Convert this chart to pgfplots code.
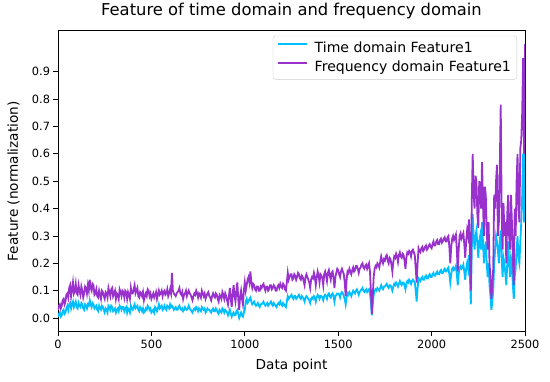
\documentclass[border=0pt]{standalone}
\usepackage{fontspec}
\setmainfont{DejaVu Sans}
\usepackage{pgfplots}
\usepackage{pgfplotstable}
\pgfplotsset{compat=1.18}
\definecolor{tdcol}{RGB}{0,191,255}
\definecolor{fdcol}{RGB}{153,50,204}
\pgfplotstableread{
x t f
0 0.005 0.03
5 0.015 0.045
10 0.02 0.05
15 0.005 0.035
20 0.01 0.045
25 0.025 0.065
30 0.03 0.07
35 0.015 0.05
40 0.02 0.06
45 0.035 0.085
50 0.045 0.09
55 0.03 0.075
60 0.05 0.11
65 0.055 0.12
70 0.035 0.08
75 0.05 0.105
80 0.06 0.13
85 0.04 0.09
90 0.05 0.10
95 0.06 0.125
100 0.04 0.09
105 0.035 0.085
110 0.055 0.12
115 0.045 0.10
120 0.04 0.085
125 0.055 0.115
130 0.05 0.10
135 0.035 0.075
140 0.03 0.09
145 0.05 0.115
150 0.045 0.11
155 0.035 0.09
160 0.05 0.12
165 0.045 0.10
170 0.065 0.14
175 0.05 0.11
180 0.04 0.10
185 0.055 0.125
190 0.05 0.12
195 0.035 0.085
200 0.04 0.09
205 0.045 0.105
210 0.03 0.08
215 0.025 0.075
220 0.045 0.10
225 0.035 0.085
230 0.03 0.07
235 0.045 0.10
240 0.04 0.095
245 0.03 0.08
250 0.02 0.07
255 0.035 0.095
260 0.03 0.09
265 0.02 0.075
270 0.045 0.11
275 0.04 0.095
280 0.03 0.08
285 0.045 0.105
290 0.04 0.11
295 0.025 0.08
300 0.03 0.09
305 0.035 0.1
310 0.02 0.07
315 0.03 0.09
320 0.035 0.085
325 0.025 0.07
330 0.045 0.105
335 0.04 0.095
340 0.03 0.08
345 0.04 0.1
350 0.04 0.095
355 0.025 0.075
360 0.035 0.10
365 0.04 0.095
370 0.02 0.07
375 0.035 0.095
380 0.03 0.085
385 0.02 0.07
390 0.045 0.11
395 0.035 0.09
400 0.03 0.09
405 0.04 0.105
410 0.05 0.12
415 0.035 0.09
420 0.04 0.10
425 0.045 0.11
430 0.03 0.08
435 0.025 0.075
440 0.04 0.095
445 0.035 0.09
450 0.025 0.08
455 0.035 0.095
460 0.02 0.065
465 0.025 0.08
470 0.035 0.09
475 0.03 0.08
480 0.045 0.105
485 0.04 0.1
490 0.03 0.08
495 0.035 0.09
500 0.02 0.07
505 0.025 0.08
510 0.03 0.09
515 0.02 0.075
520 0.04 0.085
525 0.035 0.095
530 0.025 0.07
535 0.035 0.085
540 0.05 0.10
545 0.035 0.085
550 0.04 0.09
555 0.045 0.1
560 0.03 0.08
565 0.035 0.095
570 0.045 0.10
575 0.035 0.085
580 0.03 0.09
585 0.045 0.105
590 0.04 0.08
595 0.035 0.09
600 0.05 0.105
605 0.04 0.09
610 0.045 0.165
615 0.04 0.1
620 0.03 0.09
625 0.035 0.085
630 0.04 0.08
635 0.03 0.09
640 0.03 0.095
645 0.04 0.1
650 0.045 0.11
655 0.035 0.09
660 0.03 0.085
665 0.035 0.095
670 0.025 0.07
675 0.03 0.085
680 0.04 0.09
685 0.035 0.1
690 0.03 0.08
695 0.035 0.09
700 0.045 0.10
705 0.035 0.09
710 0.03 0.085
715 0.025 0.075
720 0.02 0.065
725 0.03 0.08
730 0.035 0.09
735 0.03 0.085
740 0.04 0.10
745 0.035 0.09
750 0.025 0.075
755 0.035 0.09
760 0.03 0.085
765 0.025 0.075
770 0.04 0.10
775 0.035 0.09
780 0.03 0.08
785 0.035 0.09
790 0.02 0.07
795 0.025 0.08
800 0.035 0.09
805 0.03 0.095
810 0.03 0.08
815 0.025 0.075
820 0.02 0.065
825 0.03 0.08
830 0.035 0.09
835 0.025 0.08
840 0.025 0.075
845 0.035 0.09
850 0.03 0.085
855 0.02 0.07
860 0.015 0.06
865 0.03 0.085
870 0.025 0.08
875 0.02 0.07
880 0.035 0.095
885 0.03 0.085
890 0.02 0.07
895 0.03 0.09
900 0.025 0.08
905 0.02 0.065
910 0.01 0.05
915 0.02 0.08
920 0.03 0.11
925 0.015 0.07
930 0.005 0.04
935 0.015 0.09
940 0.02 0.12
945 0.01 0.08
950 0.01 0.06
955 0.025 0.1
960 0.03 0.13
965 0.015 0.07
970 0.0 0.03
975 0.01 0.08
980 0.02 0.10
985 0.01 0.07
990 0.005 0.05
995 0.02 0.1
1000 0.03 0.13
1005 0.06 0.1
1010 0.07 0.12
1015 0.055 0.14
1020 0.06 0.15
1025 0.07 0.13
1030 0.075 0.17
1035 0.06 0.13
1040 0.05 0.11
1045 0.055 0.125
1050 0.06 0.12
1055 0.05 0.105
1060 0.045 0.10
1065 0.05 0.115
1070 0.055 0.115
1075 0.045 0.1
1080 0.04 0.10
1085 0.05 0.115
1090 0.05 0.11
1095 0.055 0.12
1100 0.06 0.125
1105 0.05 0.11
1110 0.045 0.10
1115 0.05 0.115
1120 0.055 0.115
1125 0.045 0.1
1130 0.05 0.105
1135 0.055 0.12
1140 0.06 0.12
1145 0.05 0.105
1150 0.045 0.11
1155 0.055 0.12
1160 0.05 0.115
1165 0.045 0.1
1170 0.04 0.10
1175 0.05 0.115
1180 0.055 0.12
1185 0.05 0.11
1190 0.06 0.125
1195 0.05 0.115
1200 0.045 0.11
1205 0.055 0.125
1210 0.05 0.12
1215 0.045 0.105
1220 0.04 0.10
1225 0.06 0.13
1230 0.08 0.165
1235 0.07 0.14
1240 0.075 0.15
1245 0.08 0.16
1250 0.085 0.16
1255 0.075 0.14
1260 0.07 0.145
1265 0.08 0.16
1270 0.08 0.155
1275 0.07 0.14
1280 0.075 0.15
1285 0.08 0.165
1290 0.085 0.16
1295 0.075 0.145
1300 0.07 0.14
1305 0.08 0.155
1310 0.075 0.15
1315 0.07 0.135
1320 0.06 0.12
1325 0.075 0.15
1330 0.08 0.16
1335 0.075 0.15
1340 0.07 0.14
1345 0.065 0.13
1350 0.055 0.11
1355 0.07 0.14
1360 0.075 0.15
1365 0.07 0.145
1370 0.08 0.165
1375 0.075 0.15
1380 0.06 0.12
1385 0.075 0.15
1390 0.085 0.17
1395 0.08 0.155
1400 0.07 0.13
1405 0.08 0.16
1410 0.08 0.155
1415 0.075 0.145
1420 0.065 0.12
1425 0.08 0.16
1430 0.085 0.17
1435 0.08 0.155
1440 0.07 0.135
1445 0.085 0.165
1450 0.09 0.175
1455 0.08 0.155
1460 0.075 0.14
1465 0.085 0.165
1470 0.09 0.17
1475 0.08 0.145
1480 0.06 0.11
1485 0.08 0.15
1490 0.085 0.165
1495 0.09 0.18
1500 0.09 0.175
1505 0.085 0.16
1510 0.075 0.15
1515 0.09 0.17
1520 0.095 0.18
1525 0.09 0.17
1530 0.08 0.16
1535 0.07 0.13
1540 0.05 0.08
1545 0.075 0.14
1550 0.09 0.17
1555 0.085 0.165
1560 0.095 0.18
1565 0.09 0.17
1570 0.08 0.16
1575 0.09 0.175
1580 0.1 0.185
1585 0.095 0.17
1590 0.09 0.175
1595 0.1 0.19
1600 0.105 0.19
1605 0.095 0.18
1610 0.085 0.165
1615 0.095 0.18
1620 0.1 0.185
1625 0.105 0.195
1630 0.11 0.2
1635 0.1 0.185
1640 0.095 0.18
1645 0.1 0.19
1650 0.105 0.195
1655 0.095 0.18
1660 0.1 0.19
1665 0.105 0.2
1670 0.09 0.17
1675 0.06 0.1
1680 0.01 0.015
1685 0.05 0.08
1690 0.085 0.15
1695 0.1 0.18
1700 0.105 0.19
1705 0.1 0.185
1710 0.11 0.2
1715 0.105 0.195
1720 0.1 0.185
1725 0.11 0.205
1730 0.12 0.225
1735 0.11 0.21
1740 0.105 0.2
1745 0.115 0.215
1750 0.115 0.21
1755 0.12 0.225
1760 0.125 0.23
1765 0.115 0.21
1770 0.11 0.2
1775 0.12 0.22
1780 0.12 0.215
1785 0.11 0.195
1790 0.1 0.17
1795 0.115 0.205
1800 0.125 0.225
1805 0.12 0.22
1810 0.13 0.235
1815 0.125 0.225
1820 0.115 0.205
1825 0.125 0.23
1830 0.135 0.24
1835 0.125 0.225
1840 0.12 0.22
1845 0.13 0.235
1850 0.13 0.23
1855 0.12 0.21
1860 0.105 0.18
1865 0.125 0.22
1870 0.135 0.24
1875 0.13 0.235
1880 0.14 0.245
1885 0.135 0.24
1890 0.125 0.225
1895 0.135 0.245
1900 0.14 0.25
1905 0.135 0.24
1910 0.13 0.23
1915 0.1 0.18
1920 0.06 0.13
1925 0.11 0.2
1930 0.145 0.255
1935 0.14 0.245
1940 0.135 0.24
1945 0.145 0.255
1950 0.15 0.26
1955 0.14 0.245
1960 0.14 0.25
1965 0.15 0.26
1970 0.155 0.265
1975 0.145 0.25
1980 0.145 0.255
1985 0.155 0.265
1990 0.16 0.27
1995 0.15 0.26
2000 0.15 0.255
2005 0.16 0.27
2010 0.165 0.28
2015 0.155 0.265
2020 0.155 0.265
2025 0.165 0.28
2030 0.17 0.285
2035 0.16 0.27
2040 0.16 0.27
2045 0.17 0.285
2050 0.175 0.29
2055 0.165 0.275
2060 0.165 0.28
2065 0.175 0.29
2070 0.18 0.295
2075 0.17 0.28
2080 0.17 0.28
2085 0.18 0.295
2090 0.185 0.3
2095 0.16 0.26
2100 0.13 0.2
2105 0.16 0.26
2110 0.18 0.29
2115 0.185 0.3
2120 0.175 0.285
2125 0.18 0.295
2130 0.19 0.305
2135 0.16 0.25
2140 0.12 0.17
2145 0.16 0.25
2150 0.185 0.3
2155 0.19 0.31
2160 0.18 0.29
2165 0.185 0.3
2170 0.195 0.31
2175 0.17 0.27
2180 0.14 0.22
2185 0.18 0.28
2190 0.2 0.32
2195 0.18 0.3
2200 0.23 0.36
2205 0.15 0.25
2210 0.05 0.1
2215 0.25 0.42
2220 0.38 0.6
2225 0.3 0.45
2230 0.25 0.4
2235 0.3 0.52
2240 0.32 0.5
2245 0.27 0.38
2250 0.22 0.33
2255 0.28 0.5
2260 0.3 0.47
2265 0.25 0.4
2270 0.35 0.57
2275 0.28 0.42
2280 0.2 0.3
2285 0.25 0.48
2290 0.28 0.45
2295 0.2 0.32
2300 0.15 0.25
2305 0.2 0.35
2310 0.12 0.2
2315 0.08 0.15
2320 0.03 0.07
2325 0.06 0.12
2330 0.1 0.18
2335 0.2 0.45
2340 0.25 0.4
2345 0.3 0.5
2350 0.28 0.56
2355 0.25 0.3
2360 0.2 0.35
2365 0.28 0.55
2370 0.32 0.78
2375 0.22 0.4
2380 0.15 0.25
2385 0.22 0.42
2390 0.2 0.3
2395 0.16 0.35
2400 0.12 0.2
2405 0.2 0.38
2410 0.28 0.45
2415 0.2 0.3
2420 0.15 0.25
2425 0.22 0.45
2430 0.2 0.35
2435 0.12 0.22
2440 0.07 0.12
2445 0.15 0.4
2450 0.18 0.3
2455 0.25 0.5
2460 0.3 0.6
2465 0.22 0.4
2470 0.2 0.35
2475 0.28 0.62
2480 0.35 0.65
2485 0.45 0.75
2490 0.6 0.95
2495 0.35 0.6
2500 1.0 1.0
}\datatable
\begin{document}
\begin{tikzpicture}
\begin{axis}[
  scale only axis,
  width=467bp, height=301bp,
  xmin=0, xmax=2500, ymin=-0.05, ymax=1.05,
  xtick={0,500,1000,1500,2000,2500},
  ytick={0,0.1,0.2,0.3,0.4,0.5,0.6,0.7,0.8,0.9},
  tick pos=left, tick align=outside,
  major tick length=4.5bp,
  every tick/.style={black, line width=0.8bp},
  axis line style={black, line width=0.8bp},
  ticklabel style={font=\fontsize{11.4}{13}\selectfont},
  /pgf/number format/assume math mode=true,
  /pgf/number format/1000 sep={},
  yticklabel style={/pgf/number format/.cd, fixed, fixed zerofill, precision=1},
  title={Feature of time domain and frequency domain},
  title style={font=\fontsize{16.4}{19}\selectfont, at={(axis description cs:0.5,1)}, anchor=base, yshift=9bp},
  xlabel={Data point},
  xlabel style={font=\fontsize{13.7}{16}\selectfont, at={(axis description cs:0.5,0)}, anchor=base, yshift=-38bp},
  ylabel={Feature (normalization)},
  ylabel style={font=\fontsize{13.7}{16}\selectfont, at={(axis description cs:-0.0857,0.5)}, anchor=base},
  legend cell align=left,
  legend style={at={(axis description cs:0.983,0.983)}, anchor=north east,
    font=\fontsize{14.1}{16}\selectfont, draw=black!20, rounded corners=2.5bp,
    inner xsep=4bp, inner ysep=4bp, row sep=3bp, column sep=5bp},
  legend image code/.code={\draw[#1] (0bp,4bp) -- (29bp,4bp);},
]
\addplot[color=tdcol, line width=1.8bp] table[x=x, y=t] {\datatable};
\addlegendentry{Time domain Feature1}
\addplot[color=fdcol, line width=1.8bp] table[x=x, y=f] {\datatable};
\addlegendentry{Frequency domain Feature1}
\end{axis}
\path (-58bp,-50bp) rectangle (492bp,331bp);
\end{tikzpicture}
\end{document}
